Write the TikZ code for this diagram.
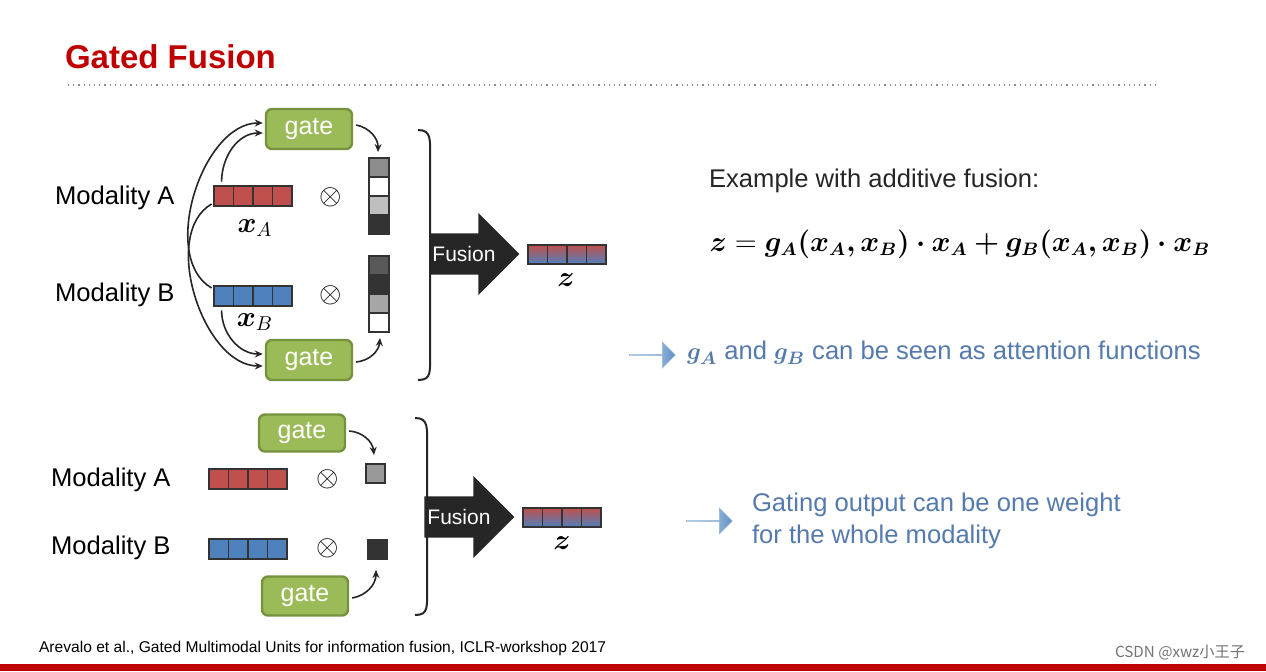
\documentclass[tikz,border=0pt]{standalone}
\usepackage{fontspec}
\usepackage{amsmath,bm}
\setmainfont{Liberation Sans}
\newfontfamily\cjk{Noto Sans CJK SC}
\usetikzlibrary{shapes.arrows,arrows.meta,calc}
\definecolor{titred}{RGB}{192,0,0}
\definecolor{gfill}{RGB}{155,187,89}
\definecolor{gline}{RGB}{118,146,60}
\definecolor{cred}{RGB}{192,80,77}
\definecolor{cblue}{RGB}{79,129,189}
\definecolor{txtblue}{RGB}{84,122,174}
\tikzset{
 gatebox/.style={draw=gline,fill=gfill,line width=1.2pt,rounded corners=3pt,minimum width=43pt,minimum height=20pt,text=white,font=\fontsize{12.5}{14}\selectfont,inner sep=0pt},
 modlab/.style={font=\fontsize{12.8}{14}\selectfont,anchor=west},
 mlab/.style={font=\fontsize{14}{16}\selectfont},
 otimes/.style={font=\fontsize{15}{16}\selectfont},
 cell/.style={draw=black!80,line width=0.8pt},
 carr/.style={-{Stealth[length=4pt,width=3.5pt]},line width=0.8pt,black!85},
 fusarr/.style={single arrow,draw=none,fill=black!85,minimum height=45pt,minimum width=41pt,single arrow head extend=5pt,text=white,font=\fontsize{10.5}{12}\selectfont,inner sep=1pt,single arrow tip angle=90},
 bracket/.style={line width=1pt,black!85},
 blueicon/.style={single arrow,minimum height=23pt,minimum width=13pt,single arrow head extend=3pt,inner sep=0pt,left color=white!70!cyan!30,right color=cblue!90,draw=cblue!60,line width=0.3pt},
}
\newcommand{\mybar}[4]{% x y color name
 \foreach \i in {0,1,2,3}{\draw[cell,fill=#3] ({#1+\i*19.5},#2) rectangle ++(19.5,20);}
 \node[minimum width=39pt,minimum height=10pt,inner sep=0pt] (#4) at ({#1+39},{#2+10}) {};}
\newcommand{\myzbar}[3]{%
 \foreach \i in {0,1,2,3}{\draw[cell,top color=cred,bottom color=cblue] ({#1+\i*19.5},#2) rectangle ++(19.5,19);}
 \node[minimum width=39pt,minimum height=9.5pt,inner sep=0pt] (#3) at ({#1+39},{#2+9.5}) {};}
\begin{document}
\begin{tikzpicture}[x=0.5pt,y=-0.5pt]
\useasboundingbox (0,0) rectangle (1266,671);
\fill[white] (0,0) rectangle (1266,671);
\node[anchor=west,text=titred,font=\bfseries\fontsize{16.5}{18}\selectfont] (title) at (58,57) {Gated Fusion};
\draw[black!45,dotted,line width=0.6pt] (68,85) -- (1155,85);
\fill[titred] (0,664) rectangle (1266,671);
\node[anchor=west,font=\fontsize{7.8}{9}\selectfont] (cite) at (32,648) {Arevalo et al., Gated Multimodal Units for information fusion, ICLR-workshop 2017};
\node[anchor=east,text=black!55,font=\cjk\fontsize{7.6}{9}\selectfont] (csdn) at (1252,653) {CSDN @xwz小王子};
% ---- top
\node[modlab] (mA) at (48,198) {Modality A};
\node[modlab] (mB) at (48,295) {Modality B};
\mybar{214}{186}{cred}{xa}
\mybar{214}{286}{cblue}{xb}
\node[mlab] (la) at (255,228) {$\bm{x}_A$};
\node[mlab] (lb) at (255,322) {$\bm{x}_B$};
\node[otimes] (o1) at (331,197) {$\otimes$};
\node[otimes] (o2) at (331,295) {$\otimes$};
\node[gatebox] (g1) at (309,129) {gate};
\node[gatebox] (g2) at (309,360) {gate};
\foreach \y/\c in {158/black!45,177/white,196/black!25,215/black!80}{\draw[cell,fill=\c] (369,\y) rectangle ++(20,19);}
\foreach \y/\c in {256/black!65,275/black!80,294/black!35,313/white}{\draw[cell,fill=\c] (369,\y) rectangle ++(20,19);}
\coordinate (va) at (378,152);
\coordinate (vb) at (380,338);
\draw[carr] ($(g1.east)+(3,-4)$) to[bend left=40] (va);
\draw[carr] ($(g2.east)+(3,2)$) to[bend right=40] (vb);
\draw[carr] ($(xa.north west)+(8,-4)$) to[out=90,in=180] ($(g1.west)+(-2,4)$);
\draw[carr] ($(xb.south west)+(8,4)$) to[out=-90,in=180] ($(g2.west)+(-2,-6)$);
\draw[carr] ($(xb.west)+(-2,-8)$) to[out=150,in=180,looseness=0.9] ($(g1.west)+(-2,-6)$);
\draw[carr] ($(xa.west)+(-2,8)$) to[out=-150,in=180,looseness=0.9] ($(g2.west)+(-2,6)$);
\draw[bracket] (418,130) .. controls (432,130) and (430,140) .. (430,160) -- (430,350) .. controls (430,372) and (432,380) .. (418,380);
\node[fusarr] (f1) at (464,254) {Fusion\hspace{6pt}};
\myzbar{528}{245}{z1}
\node[mlab] (lz1) at (566,280) {$\bm{z}$};
\node[anchor=west,font=\fontsize{12.8}{14}\selectfont,text=black!85] (ex) at (702,181) {Example with additive fusion:};
\node[font=\fontsize{13.5}{15}\selectfont] (eq) at (960,244) {$\bm{z}=\bm{g_A(x_A,x_B)\cdot x_A+g_B(x_A,x_B)\cdot x_B}$};
\node[blueicon] (bi1) at (652,355) {};
\node[anchor=west,text=txtblue,font=\fontsize{12.8}{14}\selectfont] (t1) at (680,353) {$\bm{g_A}$ and $\bm{g_B}$ can be seen as attention functions};
% ---- bottom
\node[gatebox,minimum height=18.5pt] (g3) at (302,433) {gate};
\node[gatebox,minimum height=19.5pt] (g4) at (305,596) {gate};
\node[modlab] (mA2) at (44,480) {Modality A};
\node[modlab] (mB2) at (44,548) {Modality B};
\mybar{209}{469}{cred}{xa2}
\mybar{209}{539}{cblue}{xb2}
\node[otimes] (o3) at (328,479) {$\otimes$};
\node[otimes] (o4) at (328,548) {$\otimes$};
\draw[cell,fill=black!40] (366,464) rectangle ++(19,19);
\draw[cell,fill=black!80] (368,540) rectangle ++(19,19);
\coordinate (s1) at (374,455);
\coordinate (s2) at (376,570);
\draw[carr] ($(g3.east)+(3,-2)$) to[bend left=40] (s1);
\draw[carr] ($(g4.east)+(3,2)$) to[bend right=40] (s2);
\draw[bracket] (415,418) .. controls (429,418) and (427,428) .. (427,448) -- (427,585) .. controls (427,607) and (429,615) .. (415,615);
\node[fusarr] (f2) at (459,517) {Fusion\hspace{6pt}};
\myzbar{523}{508}{z2}
\node[mlab] (lz2) at (562,543) {$\bm{z}$};
\node[blueicon] (bi2) at (709,521) {};
\node[anchor=west,align=left,text=txtblue,font=\fontsize{12.8}{16}\selectfont] (t2) at (745,521) {Gating output can be one weight\\for the whole modality};
\end{tikzpicture}
\end{document}
